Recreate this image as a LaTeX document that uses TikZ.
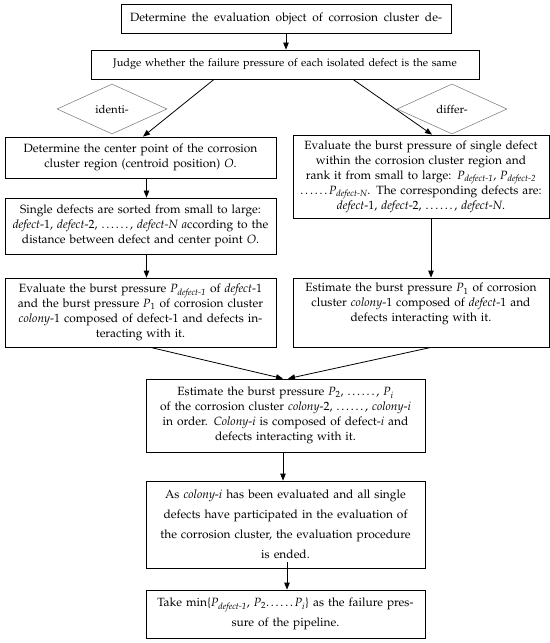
\documentclass[tikz,border=0pt]{standalone}
\usepackage[T1]{fontenc}
\usepackage{mathpazo}
\usetikzlibrary{shapes.geometric, arrows.meta}

\begin{document}
\begin{tikzpicture}[x=1bp, y=-1bp, >={Triangle[length=7bp,width=5.5bp]},
    box/.style={draw, line width=0.8bp, align=center, inner sep=0pt, font=\fontsize{12}{15}\selectfont},
    choice/.style={diamond, draw=black!55, line width=0.5bp, inner sep=0pt, minimum width=110bp, minimum height=50bp, font=\fontsize{11.5}{15}\selectfont}]
    \useasboundingbox (0,0) rectangle (550,643);
    % Nodes
    \node[box, minimum width=330bp, minimum height=29bp] (object) at (286,18.5) {\hbox to 312bp{\spaceskip=3bp plus 1fil\relax Determine the evaluation object of corrosion cluster de-}};
    \node[box, minimum width=388bp, minimum height=29bp, text width=386bp, font=\fontsize{11}{15}\selectfont] (judge) at (285,64.5) {Judge whether the failure pressure of each isolated defect is the same};
    \node[choice] (same) at (112,109) {identi-};
    \node[choice] (differ) at (452,109) {differ-};
    \node[box, minimum width=271bp, minimum height=41bp, text width=269bp] (centre) at (140.5,157.5) {Determine the center point of the corrosion\\ cluster region (centroid position) \textit{O}.};
    \node[box, minimum width=271bp, minimum height=56bp, text width=269bp] (sort) at (140.5,226) {Single defects are sorted from small to large:\\ \textit{defect}-1, \textit{defect}-2, \ldots\ldots, \textit{defect-N a}ccording to the\\ distance between defect and center point \textit{O}.};
    \node[box, minimum width=271bp, minimum height=69bp, text width=269bp] (evalL) at (140.5,312.5) {Evaluate the burst pressure \textit{P\textsubscript{defect-1}} of \textit{defect}-1\\ and the burst pressure \textit{P}\textsubscript{1} of corrosion cluster\\ \textit{colony}-1 composed of defect-1 and defects in-\\ teracting with it.};
    \node[box, minimum width=256bp, minimum height=83bp, text width=254bp] (evalR) at (421,176.5) {Evaluate the burst pressure of single defect\\ within the corrosion cluster region and\\ rank it from small to large: \textit{P\textsubscript{defect-1}}, \textit{P\textsubscript{defect-2}}\\ \ldots\ldots\textit{P\textsubscript{defect-N}}. The corresponding defects are:\\ \textit{defect}-1, \textit{defect}-2, \ldots\ldots, \textit{defect}-\textit{N}.};
    \node[box, minimum width=256bp, minimum height=69bp, text width=254bp] (estR) at (421,312.5) {Estimate the burst pressure \textit{P}\textsubscript{1} of corrosion\\ cluster \textit{colony}-1 composed of \textit{defect}-1 and\\ defects interacting with it.\\[5bp]\mbox{}};
    \node[box, minimum width=279bp, minimum height=73bp, text width=277bp] (estC) at (285.5,415.5) {Estimate the burst pressure \textit{P}\textsubscript{2}, \ldots\ldots, \textit{P\textsubscript{i}}\\ of the corrosion cluster \textit{colony}-2, \ldots\ldots, \textit{colony}-\textit{i}\\ in order. \textit{Colony}-\textit{i} is composed of defect-\textit{i} and\\ defects interacting with it.};
    \node[box, minimum width=279bp, minimum height=87bp, text width=277bp, font=\fontsize{12}{20}\selectfont] (ended) at (285.5,524.5) {As \textit{colony}-\textit{i} has been evaluated and all single\\ defects have participated in the evaluation of\\ the corrosion cluster, the evaluation procedure\\ is ended.};
    \node[box, minimum width=279bp, minimum height=48bp, text width=277bp, font=\fontsize{12}{20}\selectfont] (result) at (285.5,614) {Take min\{\textit{P\textsubscript{defect-1}}, \textit{P}\textsubscript{2}\ldots\ldots\textit{P\textsubscript{i}}\} as the failure pres-\\ sure of the pipeline.};
    % Edges
    \draw[->, line width=0.8bp] (object.south) -- (object.south |- judge.north);
    \draw[->, line width=0.8bp] ([xshift=-71bp]judge.south) -- ([xshift=2.5bp]centre.north);
    \draw[->, line width=0.8bp] ([xshift=68bp]judge.south) -- ([xshift=11bp]evalR.north);
    \draw[->, line width=0.8bp] ([xshift=6bp]centre.south) -- ([xshift=6bp]sort.north);
    \draw[->, line width=0.8bp] ([xshift=6bp]sort.south) -- ([xshift=6bp]evalL.north);
    \draw[->, line width=0.8bp] ([xshift=10bp]evalR.south) -- ([xshift=10bp]estR.north);
    \draw[->, line width=0.8bp] ([xshift=10bp]evalL.south) -- ([xshift=-2.5bp]estC.north);
    \draw[->, line width=0.8bp] ([xshift=10bp]estR.south) -- ([xshift=2.5bp]estC.north);
    \draw[->, line width=0.8bp] ([xshift=-2.5bp]estC.south) -- ([xshift=-2.5bp]ended.north);
    \draw[->, line width=0.8bp] ([xshift=1.5bp,yshift=6bp]ended.south) -- ([xshift=1.5bp]result.north);
\end{tikzpicture}
\end{document}
